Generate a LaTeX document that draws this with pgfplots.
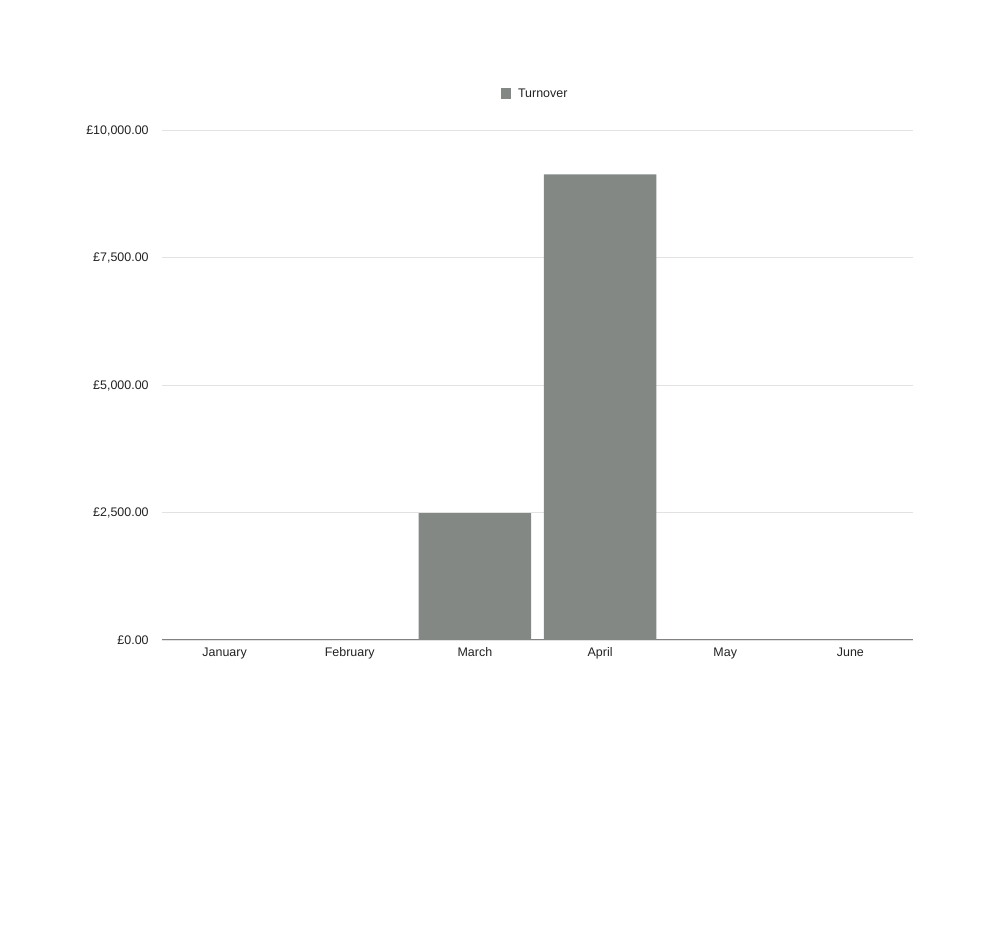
\documentclass[border=0pt]{standalone}
\usepackage{fontspec}
\setmainfont{Liberation Sans}
\usepackage{pgfplots}
\pgfplotsset{compat=1.18}
\definecolor{barcolor}{RGB}{131,136,133}
\definecolor{gridcolor}{RGB}{226,226,226}
\definecolor{basecolor}{RGB}{130,130,130}
\definecolor{textcolor}{RGB}{34,34,34}
\begin{document}
\begin{tikzpicture}
\fontsize{12.5}{14}\selectfont
\path (0,0) rectangle (1000bp,942bp);
\begin{axis}[
at={(162bp,302bp)}, anchor=south west,
scale only axis,
width=751bp, height=510bp,
xmin=-0.5, xmax=5.5,
ymin=0, ymax=10000,
axis x line*=bottom,
axis y line*=left,
x axis line style={basecolor, line width=1bp, -},
y axis line style={draw=none},
ymajorgrids,
y grid style={gridcolor, line width=0.8bp},
major tick length=0pt,
scaled y ticks=false,
xtick={0,1,2,3,4,5},
xticklabels={January,February,March,April,May,June},
ytick={0,2500,5000,7500,10000},
yticklabels={{£0.00},{£2,500.00},{£5,000.00},{£7,500.00},{£10,000.00}},
ytick style={draw=none},
xtick style={draw=none},
tick label style={font=\fontsize{12.5}{14}\selectfont, text=textcolor},
yticklabel style={anchor=base east, xshift=-9bp, yshift=-4.4bp},
xticklabel style={anchor=base, yshift=-16.5bp},
ybar, bar width=0.9,
legend style={at={(0.497,1.07)}, anchor=center, draw=none, fill=none,
  font=\fontsize{12.5}{14}\selectfont, text=textcolor},
legend image code/.code={\fill[barcolor] (0bp,-5bp) rectangle (10bp,6bp);},
clip=false,
]
\addplot [fill=barcolor, draw=none]
table {%
0 0
1 0
2 2490
3 9130
4 0
5 0
};
\addlegendentry{\hspace{5bp}Turnover}
\end{axis}
\end{tikzpicture}
\end{document}
